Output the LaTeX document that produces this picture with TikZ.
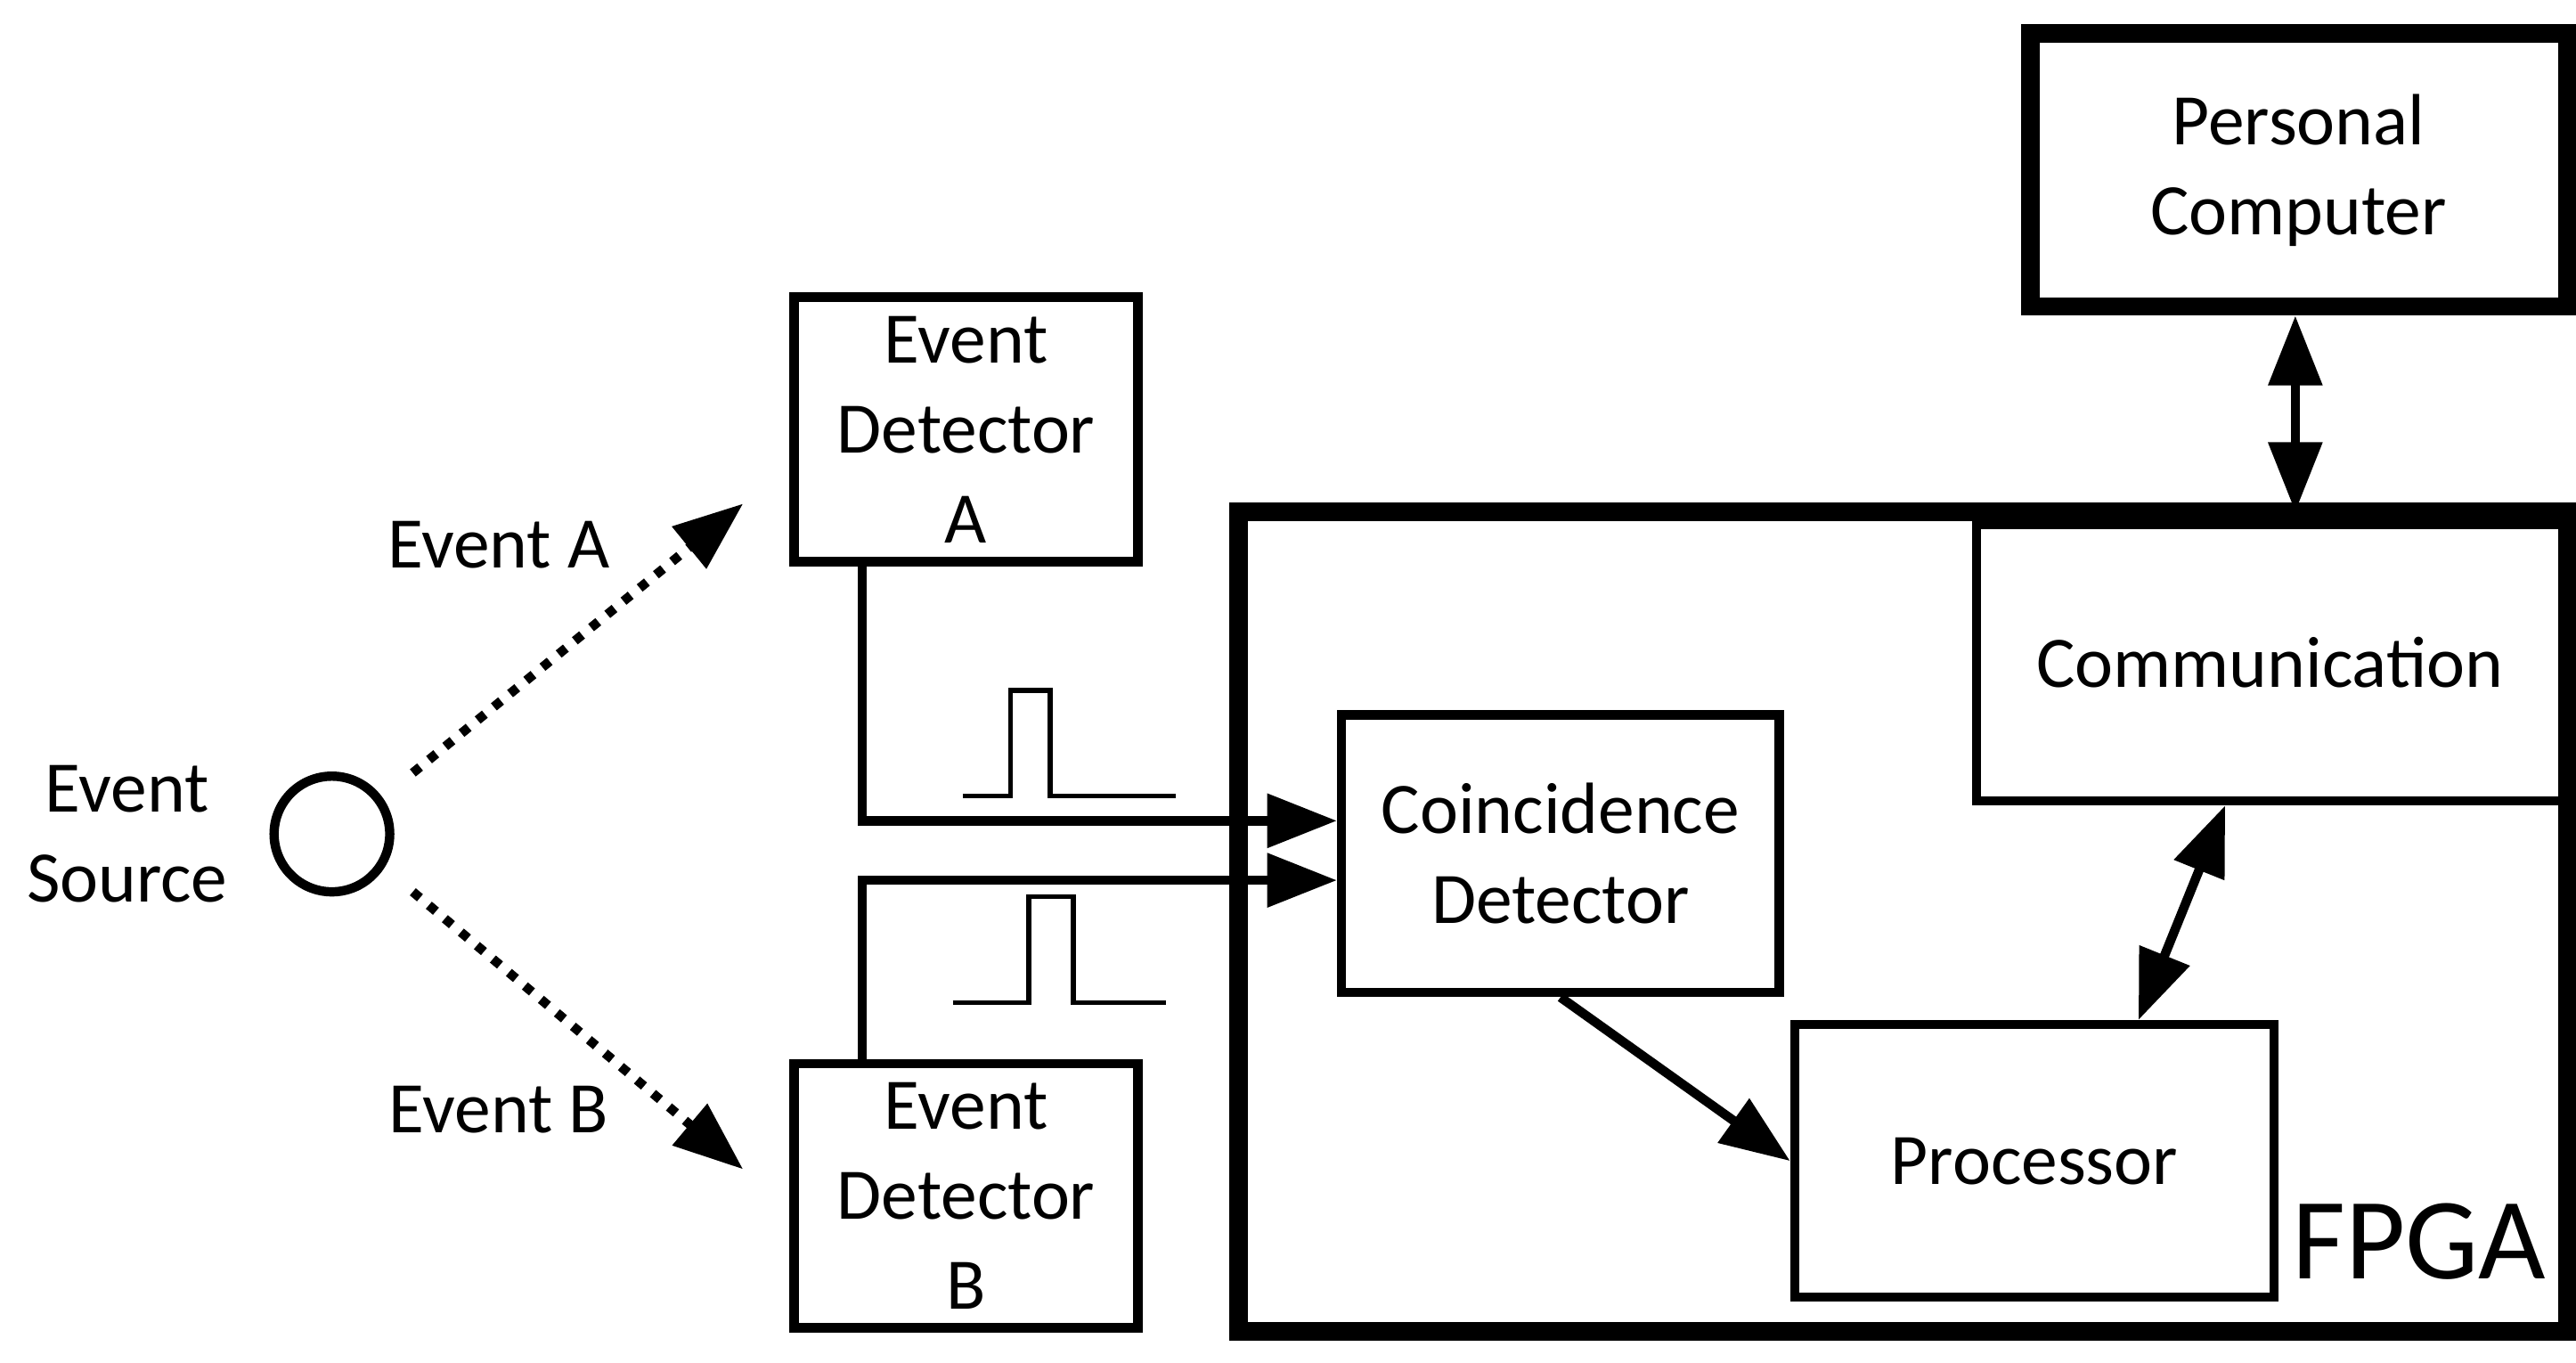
\documentclass[tikz,border=0pt]{standalone}
\usepackage{fontspec}
\setmainfont{Carlito}
\usetikzlibrary{arrows.meta}
\begin{document}
\begin{tikzpicture}[x=0.01cm,y=-0.01cm,line width=1.6pt,
  box/.style={draw,inner sep=0pt,align=center,font=\fontsize{12.5}{15.5}\selectfont},
  big box/.style={box,line width=3.2pt},
  txt/.style={align=center,font=\fontsize{12.5}{15.5}\selectfont},
  arr/.style={-{Triangle[length=12pt,width=9pt]}},
  darr/.style={{Triangle[length=12pt,width=9pt]}-{Triangle[length=12pt,width=9pt]}}]
  \useasboundingbox (0,0) rectangle (1560,825);

  \node[big box,minimum width=3.25cm,minimum height=1.65cm] (pc) at (1392,103) {Personal\\Computer};
  \draw[line width=3.2pt] (750,310) rectangle (1555,806);
  \coordinate (fpgatop) at (1390,310);
  \node[box,minimum width=3.55cm,minimum height=1.67cm,anchor=north east] (comm) at (1555,315) {Communication};
  \node[box,minimum width=2.65cm,minimum height=1.68cm] (coin) at (945,517) {Coincidence\\Detector};
  \node[box,minimum width=2.9cm,minimum height=1.65cm] (proc) at (1232,703) {Processor};
  \node[font=\fontsize{20}{24}\selectfont] (fpga) at (1465,752) {FPGA};

  \node[box,minimum width=2.08cm,minimum height=1.6cm] (deta) at (585,260) {Event\\Detector\\A};
  \node[box,minimum width=2.08cm,minimum height=1.6cm] (detb) at (585,724) {Event\\Detector\\B};
  \node[circle,draw,minimum size=0.7cm,inner sep=0pt] (src) at (201,505) {};
  \node[txt] (srclab) at (77,505) {Event\\Source};
  \node[txt] (evta) at (302,330) {Event A};
  \node[txt] (evtb) at (302,672) {Event B};

  % event arrows
  \coordinate (sa) at (250,468);
  \coordinate (ta) at (450,305);
  \coordinate (sb) at (250,540);
  \coordinate (tb) at (450,708);
  \draw[arr,dotted] (sa) -- (ta);
  \draw[arr,dotted] (sb) -- (tb);

  % detector outputs
  \draw[arr] (deta.south west) ++(44,0) |- ([yshift=0.2cm]coin.west);
  \draw[arr] (detb.north west) ++(44,0) |- ([yshift=-0.16cm]coin.west);

  % pulses
  \draw[line width=0.8pt] (583,482) -- (612,482) -- (612,418) -- (636,418) -- (636,482) -- (712,482);
  \draw[line width=0.8pt] (577,607) -- (623,607) -- (623,543) -- (650,543) -- (650,607) -- (706,607);

  \draw[arr] (coin.south) -- (proc.west);
  \draw[darr] ([xshift=0.63cm]proc.north) -- ([xshift=-0.27cm]comm.south);
  \draw[darr] (pc.south -| fpgatop) -- (fpgatop);
\end{tikzpicture}
\end{document}
